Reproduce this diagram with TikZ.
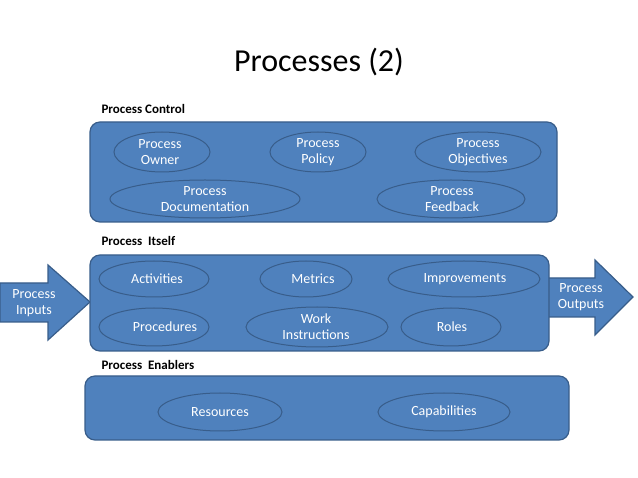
\documentclass[tikz,border=0pt]{standalone}
\usepackage{fontspec}
\setmainfont{Carlito}
\definecolor{fillb}{HTML}{4F81BD}
\definecolor{edgeb}{HTML}{385D8A}
\begin{document}
\begin{tikzpicture}[x=1pt,y=-1pt,
  box/.style={draw=edgeb,line width=1.2pt,fill=fillb,rounded corners=10pt},
  el/.style={draw=edgeb,line width=1pt,fill=fillb},
  txt/.style={text=white,font=\fontsize{14}{16}\selectfont,align=center},
  lab/.style={font=\bfseries\fontsize{13}{15}\selectfont,anchor=west}]
\useasboundingbox (0,0) rectangle (638,478);
\node[font=\fontsize{32}{36}\selectfont] (title) at (319,62) {Processes (2)};
% arrows
\draw[box,rounded corners=0pt] (0,283) -- (48,283) -- (48,265) -- (90,302) -- (48,340) -- (48,322) -- (0,322) -- cycle;
\draw[box,rounded corners=0pt] (540,278) -- (595,278) -- (595,260) -- (633,297) -- (595,335) -- (595,317) -- (540,317) -- cycle;
\node[txt] (in) at (34,303) {Process\\Inputs};
\node[txt] (out) at (581,297) {Process\\Outputs};
% boxes
\node[lab] (l1) at (98,109) {Process Control};
\node[lab] (l2) at (98,241) {Process\ \ Itself};
\node[lab] (l3) at (98,365) {Process\ \ Enablers};
\draw[box] (90,122) rectangle (557,222);
\draw[box] (90,255) rectangle (549,351);
\draw[box] (85,376) rectangle (569,440);
\newcommand\myell[5]{\draw[el] (#1,#2) ellipse [x radius=#3,y radius=#4];}
\myell{162}{152}{48}{20}{}\node[txt] (a1) at (160,152) {Process\\Owner};
\myell{318}{152}{48}{20}{}\node[txt] (a2) at (318,152) {Process\\Policy};
\myell{478}{152}{63}{20}{}\node[txt] (a3) at (478,152) {Process\\Objectives};
\myell{205}{199}{95}{19}{}\node[txt] (a4) at (205,199) {Process\\Documentation};
\myell{451}{199}{74}{19}{}\node[txt] (a5) at (452,199) {Process\\Feedback};
\myell{154}{279}{55}{18}{}\node[txt] (b1) at (157,279) {Activities};
\myell{306}{279}{46}{18}{}\node[txt] (b2) at (313,279) {Metrics};
\myell{464}{279}{76}{18}{}\node[txt] (b3) at (465,279) {Improvements};
\myell{154}{327}{55}{19}{}\node[txt] (b4) at (165,327) {Procedures};
\myell{317}{327}{71}{20}{}\node[txt] (b5) at (316,327) {Work\\Instructions};
\myell{451}{327}{50}{19}{}\node[txt] (b6) at (452,327) {Roles};
\myell{220}{412}{62}{19}{}\node[txt] (c1) at (220,412) {Resources};
\myell{444}{412}{66}{19}{}\node[txt] (c2) at (444,412) {Capabilities};
\end{tikzpicture}
\end{document}
